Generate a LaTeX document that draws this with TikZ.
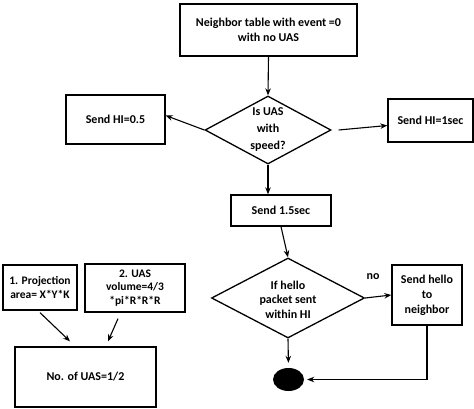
\documentclass[tikz,border=0pt]{standalone}
\usepackage{fontspec}
\setmainfont{Carlito}
\usetikzlibrary{shapes.geometric,arrows.meta,calc}
\begin{document}
\begin{tikzpicture}[x=1pt,y=-1pt,
  every node/.style={font=\bfseries\fontsize{12}{15}\selectfont, align=center, inner sep=0pt},
  box/.style={draw, line width=1.3pt, rectangle},
  dia/.style={draw, line width=1.3pt, diamond},
  lbl/.style={font=\bfseries\fontsize{12}{15}\selectfont, align=center},
  arr/.style={line width=1.1pt, -{Stealth[length=7pt,width=5.5pt]}},
  ln/.style={line width=1.1pt}]
\useasboundingbox[fill=white] (0,0) rectangle (474,409);

\node[box, minimum width=177pt, minimum height=52pt] (top) at (268.5,30) {Neighbor table with event =0\\with no UAS};
\node[dia, minimum width=126pt, minimum height=68pt] (d1) at (268,130) {};
\node[lbl, font=\bfseries\fontsize{12}{17}\selectfont] (d1t) at (268,130) {Is UAS\\with\\speed?};
\node[box, minimum width=99pt, minimum height=49pt] (hi05) at (115.5,119.5) {Send HI=0.5};
\node[box, minimum width=85pt, minimum height=43pt] (hi1) at (430.5,120.5) {Send HI=1sec};
\node[box, minimum width=100pt, minimum height=31pt] (s15) at (281,210.5) {Send 1.5sec};
\node[dia, minimum width=153pt, minimum height=80pt] (d2) at (288,298) {};
\node[lbl, font=\bfseries\fontsize{12}{14.5}\selectfont] (d2t) at (288,299.5) {If hello\\packet sent\\within HI};
\node[box, minimum width=70pt, minimum height=60pt] (hello) at (427,295) {Send hello\\to\\neighbor};
\node[fill=black, ellipse, minimum width=31pt, minimum height=23pt] (end) at (288.5,379.5) {};
\node[lbl] (no) at (373,277) {no};
\node[box, minimum width=74pt, minimum height=45pt, font=\bfseries\fontsize{11.5}{13.5}\selectfont] (proj) at (40,287.5) {1. Projection\\area= X*Y*K};
\node[box, minimum width=100pt, minimum height=48pt, font=\bfseries\fontsize{11.5}{13.5}\selectfont] (vol) at (135,288) {2. UAS\\volume=4/3\\*pi*R*R*R};
\node[box, minimum width=141pt, minimum height=60pt] (num) at (85.5,377) {No. of UAS=1/2};

\coordinate (pa) at ($(proj.south)+(0,2)$);
\coordinate (pb) at ($(num.north)+(-15.5,-5)$);
\coordinate (va) at ($(vol.south)+(-17,6)$);
\coordinate (vb) at ($(num.north)+(22.5,-5)$);

\draw[arr] (top.south) -- (d1.north);
\draw[arr] (d1.west) -- ($(hi05.east)+(0,-4)$);
\draw[arr] ($(d1.east)+(7,0)$) -- ($(hi1.west)+(0,5)$);
\draw[arr] (d1.south) -- (d1.south |- s15.north);
\draw[arr] (s15.south) -- (d2.north);
\draw[arr, shorten >=5pt] (d2.south) -- (end.north);
\draw[arr] (d2.east) -- (hello.west);
\draw[arr, shorten >=3pt] (hello.south) |- (end.east);
\draw[arr] (pa) -- (pb);
\draw[arr] (va) -- (vb);
\end{tikzpicture}
\end{document}
